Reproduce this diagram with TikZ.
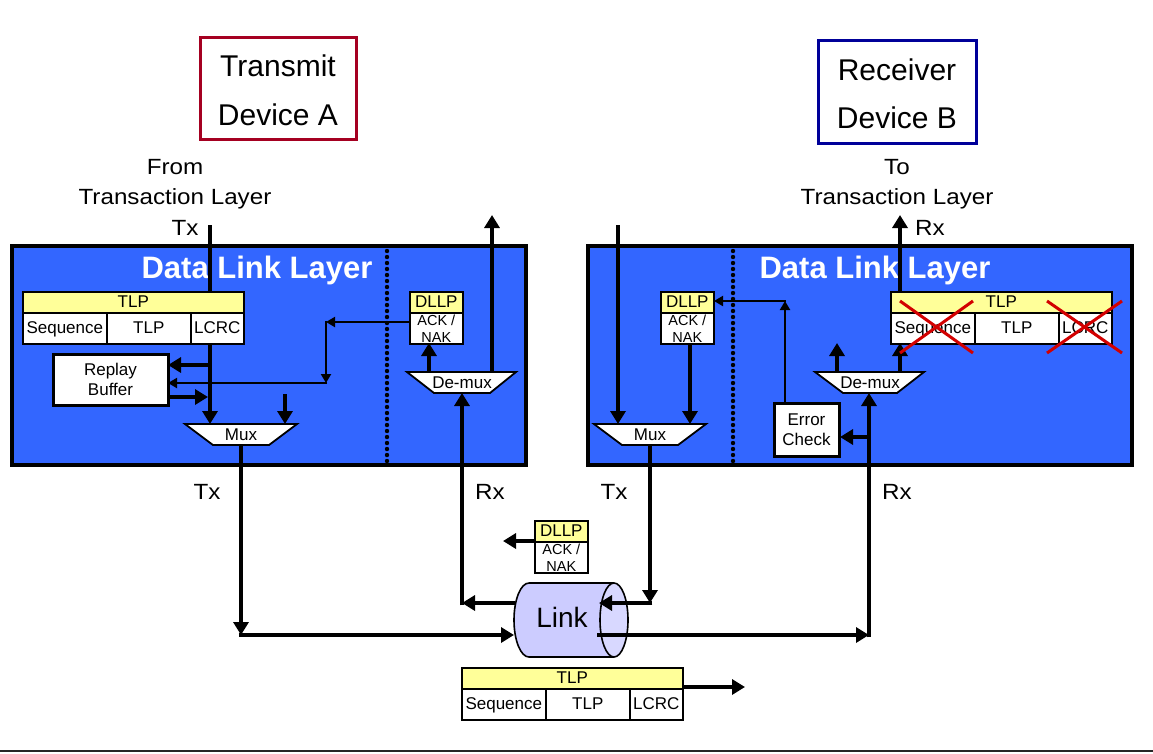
\documentclass[tikz,border=0pt]{standalone}
\usepackage{fontspec}
\usepackage{graphicx}
\setmainfont{Liberation Sans}
\usetikzlibrary{arrows.meta}
\definecolor{dllblue}{RGB}{51,102,255}
\definecolor{hdryellow}{RGB}{255,255,153}
\definecolor{linkfill}{RGB}{204,204,255}
\definecolor{linkface}{RGB}{216,216,255}
\definecolor{txred}{RGB}{165,0,33}
\definecolor{rxblue}{RGB}{0,0,153}
\definecolor{xred}{RGB}{210,0,0}
\newcommand\tlpblock[3]{%
  \node[hdrcell, minimum width=221pt, minimum height=21pt] (#1h) at (#2,#3) {TLP};
  \node[cell, minimum width=84pt, minimum height=31pt] (#1s) at (#2,#3+21) {Sequence};
  \node[cell, minimum width=84pt, minimum height=31pt] (#1t) at (#2+84,#3+21) {TLP};
  \node[cell, minimum width=53pt, minimum height=31pt] (#1l) at (#2+168,#3+21) {LCRC};
}
\newcommand\dllpblock[3]{%
  \node[hdrcell, minimum width=53pt, minimum height=21pt] (#1h) at (#2,#3) {DLLP};
  \node[cell, minimum width=53pt, minimum height=31pt, align=center, text height=, text depth=, font=\fontsize{14.5}{17}\selectfont] (#1b) at (#2,#3+21) {ACK /\\NAK};
}
\newcommand\hlbl[1]{\scalebox{1.1}[1]{#1}}
\begin{document}
\begin{tikzpicture}[x=1pt,y=-1pt,
  panel/.style={draw=black, line width=3.2pt, fill=dllblue},
  sepdot/.style={fill=black},
  paneltitle/.style={anchor=base, text=white, font=\fontsize{31}{34}\selectfont\bfseries},
  devbox/.style={line width=3pt, minimum width=156pt, minimum height=102pt, inner sep=0pt},
  devtext/.style={anchor=base, font=\fontsize{30}{32}\selectfont},
  lbl/.style={anchor=base, font=\fontsize{22}{24}\selectfont},
  cell/.style={draw=black, line width=1.6pt, fill=white, inner sep=0pt, anchor=north west, font=\fontsize{17}{20}\selectfont, text height=12pt, text depth=1.5pt},
  hdrcell/.style={cell, fill=hdryellow},
  boxtext/.style={draw=black, line width=3pt, fill=white, inner sep=0pt, align=center, font=\fontsize{17}{20.5}\selectfont},
  trap/.style={draw=black, line width=1.8pt, fill=white},
  traptext/.style={font=\fontsize{17}{20}\selectfont},
  thickarrow/.style={line width=4.5pt, -{Triangle[length=13pt,width=15pt]}},
  thinarrow/.style={line width=2pt, -{Triangle[length=9pt,width=10pt]}},
  xmark/.style={draw=xred, line width=3pt},
]
\useasboundingbox (0,0) rectangle (1153,753);
\fill[white] (0,0) rectangle (1153,753);
% device boxes
\node[devbox, draw=txred] (devA) at (278,88) {};
\node[devtext] (devAt1) at (278,76) {Transmit};
\node[devtext] (devAt2) at (278,125) {Device A};
\node[devbox, draw=rxblue, minimum width=158pt, minimum height=103pt] (devB) at (897,91.5) {};
\node[devtext] (devBt1) at (897,80) {Receiver};
\node[devtext] (devBt2) at (897,128) {Device B};
% labels
\node[lbl] (fromL1) at (175,174) {\hlbl{From}};
\node[lbl] (fromL2) at (175,204) {\hlbl{Transaction Layer}};
\node[lbl] (txTop) at (185,235) {\hlbl{Tx}};
\node[lbl] (toR1) at (897,174) {\hlbl{To}};
\node[lbl] (toR2) at (897,204) {\hlbl{Transaction Layer}};
\node[lbl] (rxTop) at (930,235) {\hlbl{Rx}};
\node[lbl] (txBL) at (207,499) {\hlbl{Tx}};
\node[lbl] (rxBL) at (490,499) {\hlbl{Rx}};
\node[lbl] (txBR) at (614,499) {\hlbl{Tx}};
\node[lbl] (rxBR) at (897,499) {\hlbl{Rx}};
% panels
\draw[panel] (12,246) rectangle (526,465);
\draw[panel] (588,246) rectangle (1132,465);
\foreach \yy in {251,257,...,461} {
  \fill[sepdot] (387,\yy) circle (2.2pt);
  \fill[sepdot] (733,\yy) circle (2.2pt);
}
\node[paneltitle] (dllL) at (257,278) {Data Link Layer};
\node[paneltitle] (dllR) at (875,278) {Data Link Layer};
% link cylinder
\draw[line width=1.6pt, fill=linkfill] (529,620) ellipse (15pt and 37pt);
\fill[linkfill] (529,583) rectangle (614,657);
\draw[line width=1.6pt] (529,583) -- (614,583) (529,657) -- (614,657);
\node[font=\fontsize{28}{30}\selectfont] (link) at (562,617) {Link};
\draw[line width=1.6pt, fill=linkface] (614,620) ellipse (14pt and 37pt);
% ---- wires, left device
\draw[thickarrow] (210,225) -- (210,424);
\draw[thickarrow] (210,365) -- (168,365);
\draw[thickarrow] (168,397) -- (208,397);
\draw[thinarrow] (409,322) -- (326,322);
\draw[thinarrow] (326,321) -- (326,383);
\draw[thinarrow] (327,383) -- (168,383);
\draw[thickarrow] (285,394) -- (285,424);
\draw[thickarrow] (241,445) -- (241,635);
\draw[thickarrow] (238.75,635) -- (514,635);
\draw[thickarrow] (515,603) -- (462,603);
\draw[thickarrow] (462,605.25) -- (462,393);
\draw[thickarrow] (429,372) -- (429,343);
\draw[thickarrow] (492,372) -- (492,215);
% ---- wires, right device
\draw[thickarrow] (618,225) -- (618,424);
\draw[thickarrow] (690,342) -- (690,424);
\draw[thickarrow] (650,445) -- (650,603);
\draw[thickarrow] (652.25,603) -- (599,603);
\draw[thickarrow] (597,635) -- (869,635);
\draw[thickarrow] (869,637.25) -- (869,393);
\draw[thickarrow] (869,437) -- (840,437);
\draw[thinarrow] (785,403) -- (785,301);
\draw[thinarrow] (786,301) -- (714,301);
\draw[thickarrow] (837,372) -- (837,343);
\draw[thickarrow] (900,372) -- (900,343);
\draw[thickarrow] (900,291) -- (900,215);
% ---- middle
\draw[thickarrow] (534,541) -- (503,541);
\draw[thickarrow] (681,687) -- (745,687);
% ---- blocks
\tlpblock{TL}{22}{291}
\tlpblock{TR}{890}{291}
\tlpblock{TB}{461}{667}
\dllpblock{DL}{409}{291}
\dllpblock{DR}{660}{291}
\dllpblock{DM}{534}{520}
\node[boxtext, minimum width=115pt, minimum height=51pt] (replay) at (110.5,379.5) {Replay\\Buffer};
\node[boxtext, minimum width=65pt, minimum height=53pt] (errchk) at (806.5,429.5) {Error\\Check};
% trapezoids
\draw[trap] (185,424) -- (297,424) -- (269,445) -- (213,445) -- cycle;
\node[traptext] (muxL) at (241,435) {Mux};
\draw[trap] (407,372) -- (516,372) -- (490,393) -- (434,393) -- cycle;
\node[traptext] (demuxL) at (462,383) {De-mux};
\draw[trap] (594,424) -- (706,424) -- (678,445) -- (622,445) -- cycle;
\node[traptext] (muxR) at (650,435) {Mux};
\draw[trap] (815,372) -- (924,372) -- (897,393) -- (843,393) -- cycle;
\node[traptext] (demuxR) at (870,383) {De-mux};
% red crosses
\draw[xmark] (900,301) -- (973,353) (973,301) -- (900,353);
\draw[xmark] (1047,301) -- (1122,353) (1122,301) -- (1047,353);
% bottom rule
\draw[line width=2pt, black!85] (0,751) -- (1153,751);
\end{tikzpicture}
\end{document}
